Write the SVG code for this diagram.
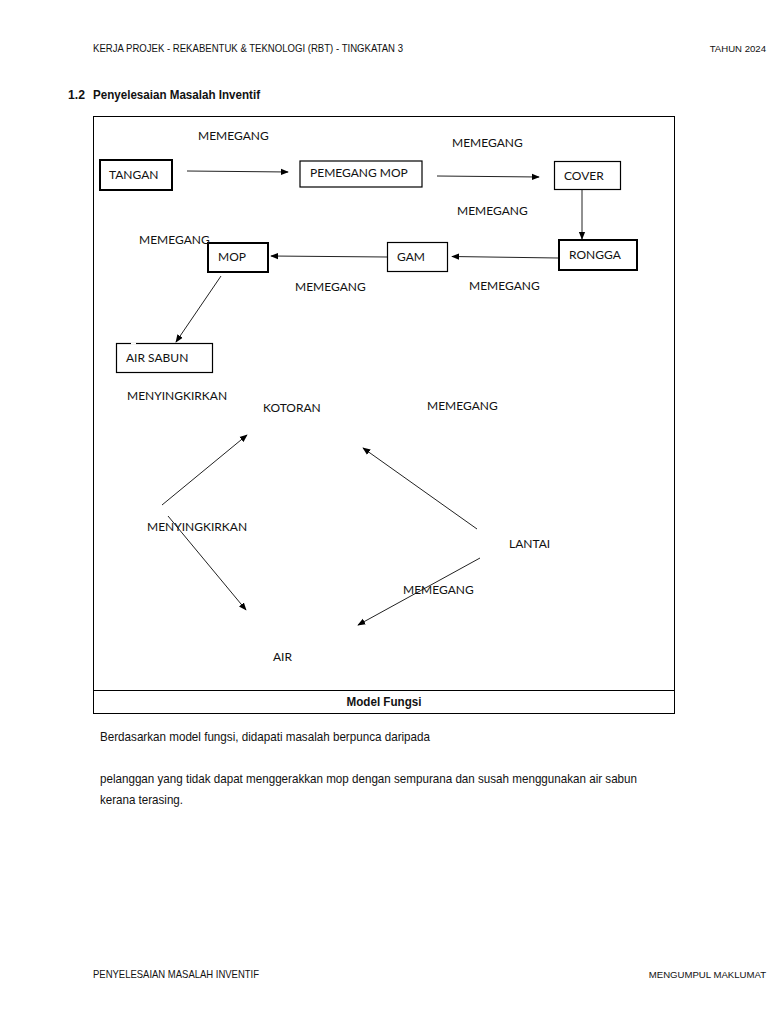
<svg xmlns="http://www.w3.org/2000/svg" width="768" height="1024" viewBox="0 0 768 1024">
<defs>
<marker id="ah" viewBox="0 0 10 10" refX="9" refY="5" markerWidth="8" markerHeight="8" markerUnits="userSpaceOnUse" orient="auto">
<path d="M0,1 L10,5 L0,9 Z" fill="#000"/>
</marker>
<style>
.doc{font-family:"Liberation Sans",Arial,sans-serif;fill:#111}
.lbl{font-family:Lato,"Noto Sans",sans-serif;font-size:12px;fill:#111}
.box{fill:#fff;stroke:#000;stroke-width:1.2}
.thick{stroke-width:2}
.con{stroke:#222;stroke-width:1;fill:none;marker-end:url(#ah)}
</style>
</defs>
<rect width="768" height="1024" fill="#fff"/>
<text class="doc" x="93" y="52" font-size="11" textLength="310" lengthAdjust="spacingAndGlyphs">KERJA PROJEK - REKABENTUK &amp; TEKNOLOGI (RBT) - TINGKATAN 3</text>
<text class="doc" x="766" y="52" font-size="9.6" text-anchor="end">TAHUN 2024</text>
<text class="doc" x="68" y="99" font-size="13" font-weight="bold" textLength="17" lengthAdjust="spacingAndGlyphs">1.2</text>
<text class="doc" x="93" y="99" font-size="13" font-weight="bold" textLength="167" lengthAdjust="spacingAndGlyphs">Penyelesaian Masalah Inventif</text>
<rect x="93.5" y="116.5" width="581" height="597" fill="none" stroke="#000" stroke-width="1"/>
<line x1="93.5" y1="690.5" x2="674.5" y2="690.5" stroke="#000" stroke-width="1"/>
<text class="doc" x="384" y="706" font-size="13" font-weight="bold" text-anchor="middle" textLength="75" lengthAdjust="spacingAndGlyphs">Model Fungsi</text>
<g id="connectors">
<line class="con" x1="187" y1="171" x2="288" y2="172"/>
<line class="con" x1="437" y1="176" x2="539" y2="177"/>
<line class="con" x1="582" y1="190" x2="582" y2="239"/>
<line class="con" x1="558" y1="258" x2="452" y2="256.5"/>
<line class="con" x1="387" y1="257" x2="271" y2="256"/>
<line class="con" x1="221" y1="276" x2="176" y2="342"/>
<line class="con" x1="162" y1="505" x2="247" y2="435"/>
<line class="con" x1="168" y1="516" x2="246" y2="610"/>
<line class="con" x1="477" y1="529" x2="363" y2="448"/>
<line class="con" x1="480" y1="558" x2="358" y2="625"/>
</g>
<g id="tangan"><rect class="box thick" x="100" y="160" width="72" height="30"/><text class="lbl" x="109" y="179">TANGAN</text></g>
<g id="pemegang-mop"><rect class="box" x="300" y="161" width="122" height="26"/><text class="lbl" x="310" y="177">PEMEGANG MOP</text></g>
<g id="cover"><rect class="box" x="554.5" y="161.5" width="66" height="28"/><text class="lbl" x="564" y="180">COVER</text></g>
<g id="rongga"><rect class="box thick" x="559" y="240" width="78" height="30"/><text class="lbl" x="569" y="259">RONGGA</text></g>
<g id="gam"><rect class="box" x="387.5" y="242.5" width="60" height="29"/><text class="lbl" x="397" y="261">GAM</text></g>
<g id="mop"><rect class="box thick" x="208" y="243" width="60" height="29"/><text class="lbl" x="218" y="261">MOP</text></g>
<g id="air-sabun"><rect class="box" x="116.5" y="343.5" width="96" height="29"/><line x1="131" y1="343.5" x2="136" y2="343.5" stroke="#fff" stroke-width="2"/><text class="lbl" x="126" y="362">AIR SABUN</text></g>
<g id="kotoran"><text class="lbl" x="263" y="412">KOTORAN</text></g>
<g id="lantai"><text class="lbl" x="509" y="548">LANTAI</text></g>
<g id="air"><text class="lbl" x="273" y="661">AIR</text></g>
<g id="labels">
<text class="lbl" x="198" y="140">MEMEGANG</text>
<text class="lbl" x="452" y="147">MEMEGANG</text>
<text class="lbl" x="457" y="215">MEMEGANG</text>
<text class="lbl" x="139" y="244">MEMEGANG</text>
<text class="lbl" x="295" y="291">MEMEGANG</text>
<text class="lbl" x="469" y="290">MEMEGANG</text>
<text class="lbl" x="127" y="400">MENYINGKIRKAN</text>
<text class="lbl" x="427" y="410">MEMEGANG</text>
<text class="lbl" x="147" y="531">MENYINGKIRKAN</text>
<text class="lbl" x="403" y="594">MEMEGANG</text>
</g>
<text class="doc" x="100" y="741" font-size="13" textLength="330" lengthAdjust="spacingAndGlyphs">Berdasarkan model fungsi, didapati masalah berpunca daripada</text>
<text class="doc" x="100" y="783" font-size="13" textLength="537" lengthAdjust="spacingAndGlyphs">pelanggan yang tidak dapat menggerakkan mop dengan sempurana dan susah menggunakan air sabun</text>
<text class="doc" x="100" y="804" font-size="13" textLength="83" lengthAdjust="spacingAndGlyphs">kerana terasing.</text>
<text class="doc" x="93" y="978" font-size="11" textLength="166" lengthAdjust="spacingAndGlyphs">PENYELESAIAN MASALAH INVENTIF</text>
<text class="doc" x="766" y="978" font-size="9.6" text-anchor="end">MENGUMPUL MAKLUMAT</text>
</svg>
